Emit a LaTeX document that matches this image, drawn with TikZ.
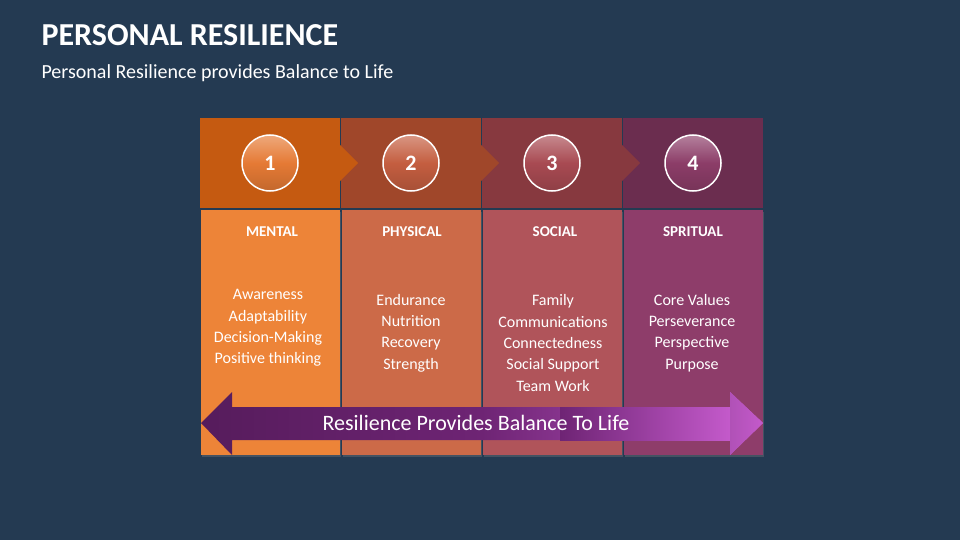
\documentclass[tikz,border=0pt]{standalone}
\usepackage{fontspec}
\setmainfont{Carlito}
\usetikzlibrary{shadows}
\definecolor{bg}{HTML}{243A52}
\definecolor{hA}{HTML}{C55A11}\definecolor{hB}{HTML}{A0472A}\definecolor{hC}{HTML}{87393F}\definecolor{hD}{HTML}{6B2D4F}
\definecolor{bA}{HTML}{ED8438}\definecolor{bB}{HTML}{CC6A48}\definecolor{bC}{HTML}{B0545A}\definecolor{bD}{HTML}{8E3D6A}
\definecolor{cA}{HTML}{E57A35}\definecolor{cB}{HTML}{C45E40}\definecolor{cC}{HTML}{A84A52}\definecolor{cD}{HTML}{8C3D68}
\definecolor{aL}{HTML}{561C5C}\definecolor{aM}{HTML}{6E2474}\definecolor{aR}{HTML}{C45ACB}
\tikzset{
 numc/.style={circle,draw=white,line width=1.5pt,minimum size=56pt,inner sep=0pt,text=white,font=\fontsize{22}{22}\selectfont\bfseries},
 head/.style={text=white,font=\fontsize{15}{15}\selectfont\bfseries},
 items/.style={text=white,align=center,font=\fontsize{16}{21.3}\selectfont},
 colbox/.style={drop shadow={opacity=0.35,shadow xshift=1pt,shadow yshift=-1.5pt}}
}
\begin{document}
\begin{tikzpicture}[x=1pt,y=-1pt]
\fill[bg] (0,0) rectangle (960,540);
\node[anchor=west,text=white,font=\fontsize{32}{32}\selectfont\bfseries] (title) at (38,35) {PERSONAL RESILIENCE};
\node[anchor=west,text=white,font=\fontsize{20}{20}\selectfont] (sub) at (38,73) {Personal Resilience provides Balance to Life};
% body columns
\foreach \x/\c in {200/bA,341/bB,482/bC,623/bD}{
 \fill[\c,colbox] (\x+1,210) rectangle (\x+140,455);
}
% header chevrons (drawn right to left so tips overlay)
\fill[hD] (623,118) rectangle (763,208);
\fill[hC] (482,118) rectangle (622,208);
\fill[hC] (622,145) -- (640,163) -- (622,181) -- cycle;
\fill[hB] (341,118) rectangle (481,208);
\fill[hB] (481,145) -- (499,163) -- (481,181) -- cycle;
\fill[hA] (200,118) rectangle (340,208);
\fill[hA] (340,145) -- (358,163) -- (340,181) -- cycle;
\foreach \n/\x/\c in {1/270/cA,2/411/cB,3/552/cC,4/693/cD}{
 \node[numc,top color=\c!65!white,bottom color=\c!85!black,middle color=\c] (n\n) at (\x,163) {\n};
}
\node[head] (h1) at (272,232) {MENTAL};
\node[head] (h2) at (412,232) {PHYSICAL};
\node[head] (h3) at (555,232) {SOCIAL};
\node[head] (h4) at (693,232) {SPRITUAL};
\node[items] (t1) at (268,328) {Awareness\\Adaptability\\Decision-Making\\Positive thinking};
\node[items] (t2) at (411,333) {Endurance\\Nutrition\\Recovery\\Strength};
\node[items] (t3) at (553,343) {Family\\Communications\\Connectedness\\Social Support\\Team Work};
\node[items] (t4) at (692,333) {Core Values\\Perseverance\\Perspective\\Purpose};
% double arrow
\shade[left color=aL,right color=aR,middle color=aM,shading angle=90]
 (201,423) -- (232,392) -- (232,407) -- (730,407) -- (730,392) -- (763,423) -- (730,455) -- (730,440) -- (232,440) -- (232,455) -- cycle;
\shade[left color=aM,right color=aR] (560,407) rectangle (730,440);
\shade[left color=aR!90!black,right color=aR] (730,392) -- (763,423) -- (730,455) -- cycle;
\node[text=white,font=\fontsize{22}{22}\selectfont] (arr) at (476,423) {Resilience Provides Balance To Life};
\end{tikzpicture}
\end{document}
